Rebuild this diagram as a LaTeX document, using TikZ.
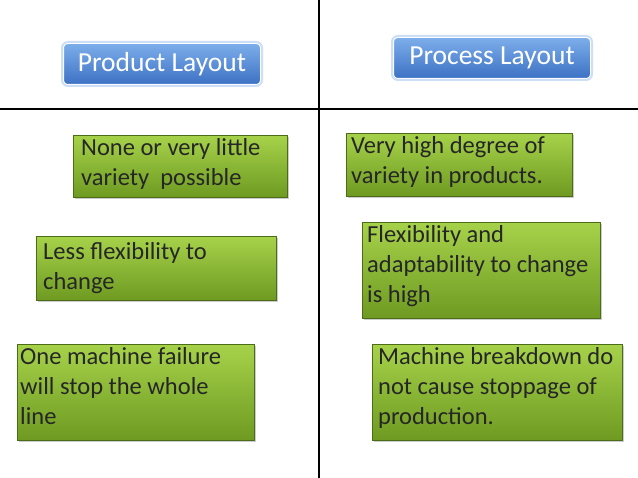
\documentclass[tikz,border=0pt]{standalone}
\usepackage{fontspec}
\setmainfont{Carlito}
\usetikzlibrary{shadows}
\definecolor{gtop}{HTML}{A6D24A}
\definecolor{gbot}{HTML}{6E9A22}
\definecolor{btop}{HTML}{7FB0EC}
\definecolor{bbot}{HTML}{3A6FC2}
\tikzset{
 gbox/.style={draw=gbot!70!black, line width=0.6pt, top color=gtop, bottom color=gbot, drop shadow={shadow xshift=2pt,shadow yshift=-2pt,opacity=0.4}, anchor=north west, inner sep=0pt},
 gtext/.style={anchor=north west, align=left, inner sep=3pt, font=\fontsize{24.5}{30}\selectfont, text=black!85},
 hbox/.style={draw=white, line width=1pt, rounded corners=6pt, top color=btop, bottom color=bbot, text=white, font=\fontsize{27.5}{30}\selectfont, minimum width=200pt, minimum height=44pt, double=btop!40, double distance=2pt},
}
\begin{document}
\begin{tikzpicture}[x=1pt,y=-1pt]
\useasboundingbox (0,0) rectangle (638,478);
\coordinate (vt) at (319,0); \coordinate (vb) at (319,478);
\coordinate (hl) at (0,109); \coordinate (hr) at (638,109);
\draw[line width=1.5pt] (vt) -- (vb);
\draw[line width=1.5pt] (hl) -- (hr);
\node[hbox] (h1) at (162,64) {Product Layout};
\node[hbox] (h2) at (492,58) {Process Layout};
\node[gbox, minimum width=214pt, minimum height=62pt] (g1) at (73,135) {};
\node[gtext] (t1) at ([xshift=5pt,yshift=0pt]g1.north west) {None or very little\\variety\ \ possible};
\node[gbox, minimum width=226pt, minimum height=63pt] (g2) at (346,133) {};
\node[gtext] (t2) at ([xshift=2pt,yshift=0pt]g2.north west) {Very high degree of\\variety in products.};
\node[gbox, minimum width=240pt, minimum height=64pt] (g3) at (36,236) {};
\node[gtext] (t3) at ([xshift=4pt,yshift=-3pt]g3.north west) {Less flexibility to\\change};
\node[gbox, minimum width=238pt, minimum height=96pt] (g4) at (362,222) {};
\node[gtext] (t4) at ([xshift=2pt,yshift=0pt]g4.north west) {Flexibility and\\adaptability to change\\is high};
\node[gbox, minimum width=237pt, minimum height=96pt] (g5) at (17,344) {};
\node[gtext] (t5) at ([xshift=0pt,yshift=0pt]g5.north west) {One machine failure\\will stop the whole\\line};
\node[gbox, minimum width=250pt, minimum height=96pt] (g6) at (372,344) {};
\node[gtext] (t6) at ([xshift=3pt,yshift=0pt]g6.north west) {Machine breakdown do\\not cause stoppage of\\production.};
\end{tikzpicture}
\end{document}
